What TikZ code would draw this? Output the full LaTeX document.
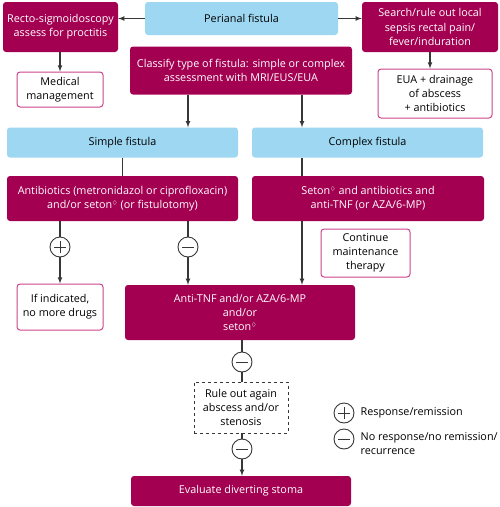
\documentclass[tikz,border=0pt]{standalone}
\usepackage{fontspec}
\setmainfont{Open Sans}
\usepackage{amssymb}
\usepackage{xcolor}

\definecolor{fistred}{RGB}{163,0,82}
\definecolor{fistblue}{RGB}{157,215,242}
\definecolor{fistpink}{RGB}{204,68,140}
\definecolor{linegray}{RGB}{55,55,55}
\newcommand{\lozsup}{\textsuperscript{$\scriptstyle\lozenge$}}

\begin{document}
\begin{tikzpicture}[x=1pt,y=-1pt,
  boxtext/.style={align=center, inner sep=2pt, font=\fontsize{10.8}{14.3}\selectfont},
  redbox/.style={boxtext, rectangle, rounded corners=3pt, fill=fistred, text=white},
  bluebox/.style={boxtext, rectangle, rounded corners=3pt, fill=fistblue, text=black},
  whitebox/.style={boxtext, rectangle, rounded corners=3pt, draw=fistpink, line width=1pt, fill=white},
  dashbox/.style={boxtext, rectangle, draw=linegray, line width=0.8pt, dashed, fill=white},
  legtext/.style={align=left, inner sep=2pt, font=\fontsize{10.8}{14.3}\selectfont},
  ln/.style={draw=linegray, line width=1.1pt},
  arr/.style={ln, -latex},
  pm/.style={circle, draw=linegray, line width=0.9pt, fill=white, minimum size=20pt, inner sep=0pt},
  minussign/.style={pm, path picture={
    \draw[linegray, line width=0.9pt] ([xshift=-6pt]path picture bounding box.center) -- ([xshift=6pt]path picture bounding box.center);}},
  plussign/.style={pm, path picture={
    \draw[linegray, line width=0.9pt] ([xshift=-6pt]path picture bounding box.center) -- ([xshift=6pt]path picture bounding box.center)
      ([yshift=-6pt]path picture bounding box.center) -- ([yshift=6pt]path picture bounding box.center);}}
]

\useasboundingbox (0,0) rectangle (500,507);

% Top row
\node[bluebox, minimum width=193pt, minimum height=33pt] (perianal) at (241.5,18.5) {Perianal fistula};
\node[redbox, minimum width=115pt, minimum height=50pt] (recto) at (60.5,27) {Recto-sigmoidoscopy\\assess for proctitis};
\node[redbox, minimum width=136pt, minimum height=50pt] (search) at (430,27) {Search/rule out local\\sepsis rectal pain/\\fever/induration};
\node[whitebox, minimum width=86pt, minimum height=35pt] (medical) at (60,89.5) {Medical\\management};
\node[redbox, minimum width=222pt, minimum height=48pt] (classify) at (241,70.5) {Classify type of fistula: simple or complex\\assessment with MRI/EUS/EUA};
\node[whitebox, minimum width=114pt, minimum height=49pt] (eua) at (435,93.5) {EUA + drainage\\of abscess\\+ antibiotics};

% Simple / complex
\node[bluebox, minimum width=231pt, minimum height=30pt] (simple) at (122.5,142.5) {Simple fistula};
\node[bluebox, minimum width=231pt, minimum height=30pt] (complex) at (367.5,142.5) {Complex fistula};
\node[redbox, minimum width=231pt, minimum height=45pt] (antib) at (122.5,198.5) {Antibiotics (metronidazol or ciprofloxacin)\\and/or seton\lozsup{} (or fistulotomy)};
\node[redbox, minimum width=232pt, minimum height=45pt] (seton) at (368,198.5) {Seton\lozsup{} and antibiotics and\\anti-TNF (or AZA/6-MP)};

\node[plussign] (pos) at (60,247) {};
\node[minussign] (neg) at (188,247) {};
\coordinate (rightcol) at (302,0);

\node[whitebox, minimum width=86pt, minimum height=46pt] (indicated) at (60,307) {If indicated,\\no more drugs};
\node[whitebox, minimum width=89pt, minimum height=48pt] (continue) at (365.5,253) {Continue\\maintenance\\therapy};
\node[redbox, minimum width=230pt, minimum height=55pt] (antitnf) at (240,312.5) {Anti-TNF and/or AZA/6-MP\\and/or\\seton\lozsup};

% Bottom
\node[minussign] (negb) at (242,362) {};
\node[dashbox, minimum width=94pt, minimum height=51pt] (ruleout) at (241,407.5) {Rule out again\\abscess and/or\\stenosis};
\node[minussign] (negc) at (242,449) {};
\node[redbox, minimum width=220pt, minimum height=30pt] (stoma) at (241,491) {Evaluate diverting stoma};

% Legend
\node[plussign] (legpos) at (344,413) {};
\node[legtext, anchor=west] (legresp) at ([xshift=4pt]legpos.east) {Response/remission};
\node[minussign] (legneg) at (344,439) {};
\node[legtext, anchor=north west] (legnone) at ([xshift=4pt,yshift=9pt]legneg.east) {No response/no remission/\\recurrence};

% Connectors
\draw[arr] (perianal.west) -- (perianal.west -| recto.east);
\draw[arr] (perianal.east) -- (perianal.east -| search.west);
\draw[arr] (recto.south -| medical) -- (medical.north);
\draw[arr] (search.south) -- (search.south |- eua.north);
\draw[arr] (classify.south -| neg) -- (simple.north -| neg);
\draw[arr] (classify.south -| rightcol) -- (complex.north -| rightcol);
\draw[ln] (simple) -- (antib);
\draw[ln] (complex.south -| rightcol) -- (seton.north -| rightcol);
\draw[ln] (antib.south -| pos) -- (pos);
\draw[arr] (pos) -- (indicated);
\draw[ln] (antib.south -| neg) -- (neg);
\draw[arr] (neg) -- (neg |- antitnf.north);
\draw[arr] (seton.south -| rightcol) -- (antitnf.north -| rightcol);
\draw[ln] (antitnf.south -| negb) -- (negb);
\draw[ln] (negb) -- (negb |- ruleout.north);
\draw[ln] (ruleout.south -| negc) -- (negc);
\draw[arr] (negc) -- (negc |- stoma.north);

\end{tikzpicture}
\end{document}
